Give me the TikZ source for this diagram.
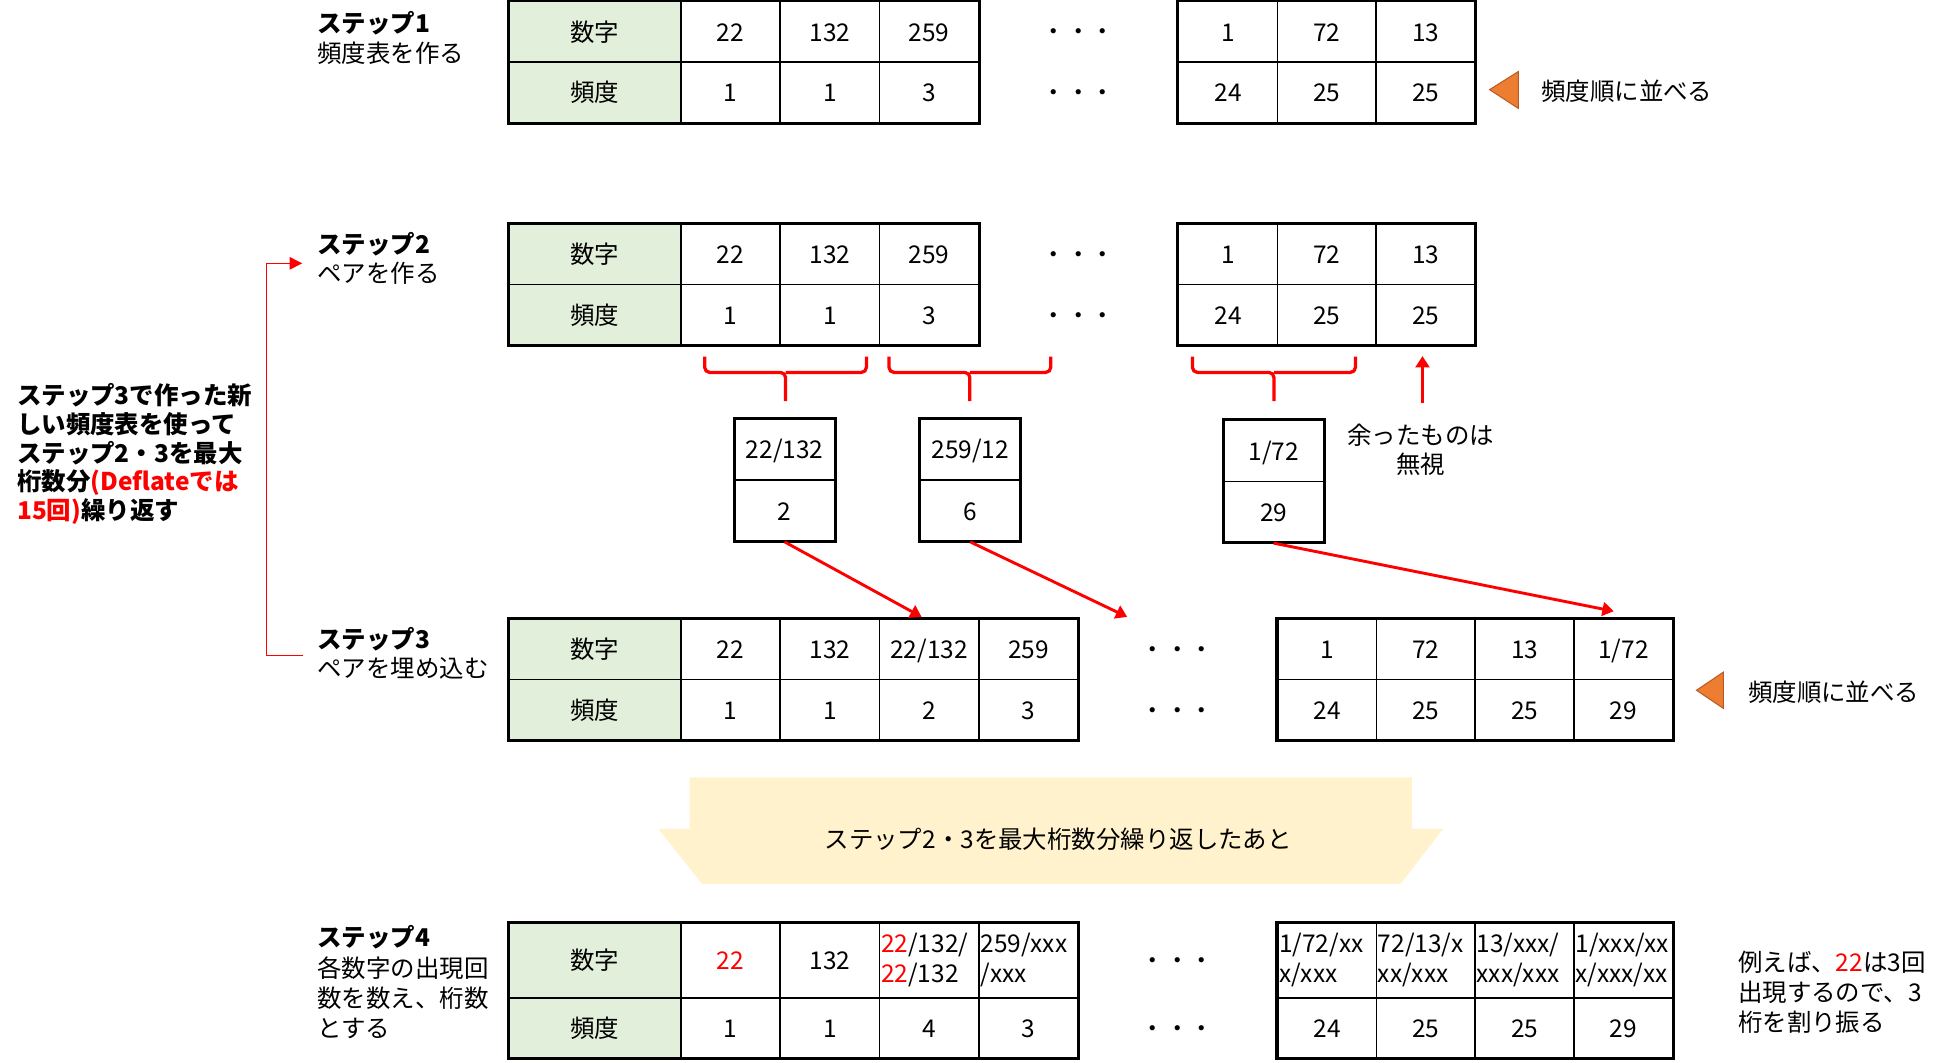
\documentclass[tikz,border=0pt]{standalone}
\usepackage{fontspec}
\setmainfont{Noto Sans CJK JP}
\usetikzlibrary{arrows.meta}
\definecolor{headgreen}{HTML}{E2EFDA}
\definecolor{bannerfill}{HTML}{FFF2CC}
\definecolor{orangeC}{HTML}{ED7D31}
\definecolor{orangeD}{HTML}{B85A24}
\definecolor{redC}{HTML}{FF0000}
\newcommand{\jfont}{\fontsize{19.5pt}{24pt}\selectfont}
% #1 name, #2 x-left, #3 width, #4 top, #5 mid, #6 bottom, #7 upper text, #8 lower text
\newcommand{\tcol}[8]{%
  \node[cellbox, minimum width={#3}, minimum height={#5-#4}] (#1u) at ({#2+#3/2},{(#4+#5)/2}) {#7};
  \node[cellbox, minimum width={#3}, minimum height={#6-#5}] (#1d) at ({#2+#3/2},{(#5+#6)/2}) {#8};}
\newcommand{\thd}[6]{%
  \node[cellbox, fill=headgreen, minimum width={#3}, minimum height={#5-#4}] (#1u) at ({#2+#3/2},{(#4+#5)/2}) {数字};
  \node[cellbox, fill=headgreen, minimum width={#3}, minimum height={#6-#5}] (#1d) at ({#2+#3/2},{(#5+#6)/2}) {頻度};}
\newcommand{\mline}[2]{\raisebox{2.5pt}{\parbox{76.5pt}{\raggedright #1\\#2}}}
\newcommand{\rd}[1]{\textcolor{redC}{#1}}
\begin{document}
\begin{tikzpicture}[x=1pt,y=-1pt,
  every node/.style={font=\jfont},
  cellbox/.style={draw=black, line width=1.3pt, inner sep=0pt, text height=17pt, text depth=2pt},
  frame/.style={draw=black, line width=2.2pt},
  lbl/.style={anchor=west, inner sep=0pt, text height=17pt, text depth=2pt},
  blbl/.style={lbl, font=\jfont\bfseries},
  dotsn/.style={inner sep=0pt, text height=17pt, text depth=2pt},
  bracestyle/.style={draw=redC, line width=2.6pt, rounded corners=4pt},
  redarrow/.style={draw=redC, line width=2.3pt, -{Triangle[length=9pt,width=11pt]}},
  thinarrow/.style={draw=redC, line width=1pt, -{Triangle[length=10pt,width=10pt]}},
  tri/.style={fill=orangeC, draw=orangeD, line width=0.8pt, line join=miter}]
\useasboundingbox (0,0) rectangle (1560,847);

% ---------- Step 1 ----------
\node[blbl] (s1a) at (253,18.5) {ステップ1};
\node[lbl] (s1b) at (253,42) {頻度表を作る};
\thd{t1h}{406}{137}{1.2}{49.5}{98}
\tcol{t1a}{543}{79.2}{1.2}{49.5}{98}{22}{1}
\tcol{t1b}{622.2}{79.2}{1.2}{49.5}{98}{132}{1}
\tcol{t1c}{701.4}{79.2}{1.2}{49.5}{98}{259}{3}
\tcol{t1x}{940}{78.8}{1.2}{49.5}{98}{1}{24}
\tcol{t1y}{1018.8}{78.8}{1.2}{49.5}{98}{72}{25}
\tcol{t1z}{1097.6}{78.8}{1.2}{49.5}{98}{13}{25}
\draw[frame] (t1hu.north west) rectangle (t1cd.south east);
\draw[frame] (t1xu.north west) rectangle (t1zd.south east);
\node[dotsn] (d1u) at (860,25) {・・・};
\node[dotsn] (d1d) at (860,73.5) {・・・};
\filldraw[tri] (1188,71.5) -- (1211,57) -- (1211,86.5) -- cycle;
\node[lbl] (n1) at (1229,73) {頻度順に並べる};

% ---------- Step 2 ----------
\node[blbl] (s2a) at (253,194.5) {ステップ2};
\node[lbl] (s2b) at (253,217.5) {ペアを作る};
\thd{t2h}{406}{137}{179}{227}{275}
\tcol{t2a}{543}{79.2}{179}{227}{275}{22}{1}
\tcol{t2b}{622.2}{79.2}{179}{227}{275}{132}{1}
\tcol{t2c}{701.4}{79.2}{179}{227}{275}{259}{3}
\tcol{t2x}{940}{78.8}{179}{227}{275}{1}{24}
\tcol{t2y}{1018.8}{78.8}{179}{227}{275}{72}{25}
\tcol{t2z}{1097.6}{78.8}{179}{227}{275}{13}{25}
\draw[frame] (t2hu.north west) rectangle (t2cd.south east);
\draw[frame] (t2xu.north west) rectangle (t2zd.south east);
\node[dotsn] (d2u) at (860,203) {・・・};
\node[dotsn] (d2d) at (860,251) {・・・};

% braces
\draw[bracestyle] (562,284.5) |- (626.5,297) -- (626.5,320);
\draw[bracestyle] (691,284.5) |- (626.5,297);
\draw[bracestyle] (709,284.5) |- (773.5,297) -- (773.5,320);
\draw[bracestyle] (838,284.5) |- (773.5,297);
\draw[bracestyle] (951,284.5) |- (1016,297) -- (1016,320);
\draw[bracestyle] (1081,284.5) |- (1016,297);
\coordinate (ua1) at (1134.5,321.5);
\coordinate (ua2) at (1134.5,284);
\draw[redarrow] (ua1) -- (ua2);

% pair boxes
\tcol{p1}{586}{79.5}{334}{383}{431.5}{22/132}{2}
\tcol{p2}{734}{79.5}{334}{383}{431.5}{259/12}{6}
\tcol{p3}{976}{79.5}{335}{384}{432.5}{1/72}{29}
\draw[frame] (p1u.north west) rectangle (p1d.south east);
\draw[frame] (p2u.north west) rectangle (p2d.south east);
\draw[frame] (p3u.north west) rectangle (p3d.south east);
\node[inner sep=0pt, text height=17pt, text depth=2pt] (rem1) at (1133,347) {余ったものは};
\node[inner sep=0pt, text height=17pt, text depth=2pt] (rem2) at (1133,370.5) {無視};

% ---------- Step 3 ----------
\node[blbl] (s3a) at (253,510) {ステップ3};
\node[lbl] (s3b) at (253,533) {ペアを埋め込む};
\thd{t3h}{406}{137}{494}{542}{590}
\tcol{t3a}{543}{79.2}{494}{542}{590}{22}{1}
\tcol{t3b}{622.2}{79.2}{494}{542}{590}{132}{1}
\tcol{t3c}{701.4}{79.2}{494}{542}{590}{22/132}{2}
\tcol{t3d}{780.6}{79.2}{494}{542}{590}{259}{3}
\tcol{t3w}{1019}{78.8}{494}{542}{590}{1}{24}
\tcol{t3x}{1097.8}{78.8}{494}{542}{590}{72}{25}
\tcol{t3y}{1176.6}{78.8}{494}{542}{590}{13}{25}
\tcol{t3z}{1255.4}{78.8}{494}{542}{590}{1/72}{29}
\draw[frame] (t3hu.north west) rectangle (t3dd.south east);
\draw[frame] (t3wu.north west) rectangle (t3zd.south east);
\node[dotsn] (d3u) at (939,518) {・・・};
\node[dotsn] (d3d) at (939,566) {・・・};
\filldraw[tri] (1353,550.5) -- (1374.5,536) -- (1374.5,565) -- cycle;
\node[lbl] (n3) at (1394,552) {頻度順に並べる};

% arrows from pairs to step 3
\coordinate (e1) at (735,492);
\coordinate (e2) at (899,492);
\coordinate (e3) at (1287,487.5);
\draw[redarrow] (p1d.south) -- (e1);
\draw[redarrow] (p2d.south) -- (e2);
\draw[redarrow] (p3d.south) -- (e3);

% loop-back bracket
\coordinate (lb1) at (242,522.6);
\coordinate (lb2) at (212.5,522.6);
\coordinate (lb3) at (212.5,210);
\coordinate (lb4) at (241,210);
\draw[thinarrow] (lb1) -- (lb2) -- (lb3) -- (lb4);

% left explanation
\node[blbl] (L1) at (13.5,315) {ステップ3で作った新};
\node[blbl] (L2) at (13.5,338) {しい頻度表を使って};
\node[blbl] (L3) at (13.5,361) {ステップ2・3を最大};
\node[blbl] (L4) at (13.5,384) {桁数分\rd{(Deflateでは}};
\node[blbl] (L5) at (13.5,407) {\rd{15回)}繰り返す};

% ---------- banner ----------
\fill[bannerfill] (550,620) -- (1126,620) -- (1126,661) -- (1151,661) -- (1117,705)
  -- (560,705) -- (525,661) -- (550,661) -- cycle;
\node[inner sep=0pt, text height=17pt, text depth=2pt] (bn) at (844,669.5) {ステップ2・3を最大桁数分繰り返したあと};

% ---------- Step 4 ----------
\node[blbl] (s4a) at (253,747.5) {ステップ4};
\node[lbl] (s4b) at (253,772) {各数字の出現回};
\node[lbl] (s4c) at (253,796) {数を数え、桁数};
\node[lbl] (s4d) at (253,820) {とする};
\thd{t4h}{406}{137}{736}{796}{844}
\tcol{t4a}{543}{79.2}{736}{796}{844}{\rd{22}}{1}
\tcol{t4b}{622.2}{79.2}{736}{796}{844}{132}{1}
\tcol{t4c}{701.4}{79.2}{736}{796}{844}{\mline{\rd{22}/132/}{\rd{22}/132}}{4}
\tcol{t4d}{780.6}{79.2}{736}{796}{844}{\mline{259/xxx}{/xxx}}{3}
\tcol{t4w}{1019}{78.8}{736}{796}{844}{\mline{1/72/xx}{x/xxx}}{24}
\tcol{t4x}{1097.8}{78.8}{736}{796}{844}{\mline{72/13/x}{xx/xxx}}{25}
\tcol{t4y}{1176.6}{78.8}{736}{796}{844}{\mline{13/xxx/}{xxx/xxx}}{25}
\tcol{t4z}{1255.4}{78.8}{736}{796}{844}{\mline{1/xxx/xx}{x/xxx/xx}}{29}
\draw[frame] (t4hu.north west) rectangle (t4dd.south east);
\draw[frame] (t4wu.north west) rectangle (t4zd.south east);
\node[dotsn] (d4u) at (939,766) {・・・};
\node[dotsn] (d4d) at (939,820) {・・・};
\node[lbl] (r1) at (1386,767) {例えば、\rd{22}は3回};
\node[lbl] (r2) at (1386,791) {出現するので、3};
\node[lbl] (r3) at (1386,815) {桁を割り振る};
\end{tikzpicture}
\end{document}
